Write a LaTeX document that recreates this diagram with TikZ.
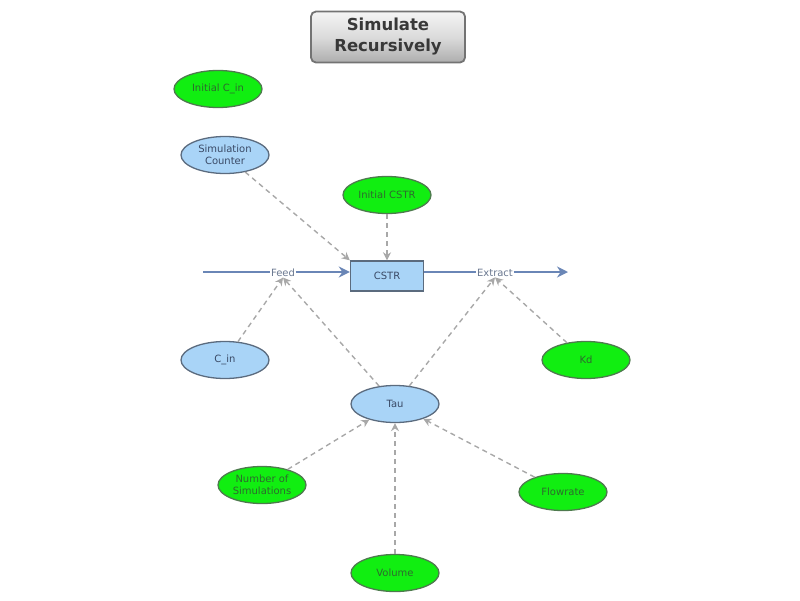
\documentclass[tikz,border=0pt]{standalone}
\usepackage{fontspec}
\setmainfont{DejaVu Sans}
\usetikzlibrary{shapes.geometric,arrows.meta}
\definecolor{gfill}{HTML}{11EE11}
\definecolor{gdraw}{HTML}{4E7A4E}
\definecolor{gtext}{HTML}{2E6A2E}
\definecolor{bfill}{HTML}{A9D4F7}
\definecolor{bdraw}{HTML}{5B6B7E}
\definecolor{btext}{HTML}{3A4A66}
\definecolor{flowc}{HTML}{6A86B6}
\definecolor{depc}{HTML}{A8A8A8}
\definecolor{lbltext}{HTML}{6A7890}
\tikzset{
  gnode/.style={ellipse, draw=gdraw, line width=1.3pt, fill=gfill, text=gtext,
    minimum width=88pt, minimum height=37pt, inner sep=0pt, align=center,
    font=\fontsize{10}{12}\selectfont},
  bnode/.style={ellipse, draw=bdraw, line width=1.3pt, fill=bfill, text=btext,
    minimum width=88pt, minimum height=37pt, inner sep=0pt, align=center,
    font=\fontsize{10}{12}\selectfont},
  stock/.style={rectangle, draw=bdraw, line width=1.4pt, fill=bfill, text=btext,
    minimum width=73pt, minimum height=30pt, inner sep=0pt,
    font=\fontsize{10}{12}\selectfont},
  flowlbl/.style={fill=white, inner sep=0.5pt, text=lbltext,
    font=\fontsize{10}{12}\selectfont},
  flow/.style={draw=flowc, line width=2.6pt},
  flowarrow/.style={flow, -{Stealth[length=11pt,width=11pt]}},
  dep/.style={draw=depc, line width=1.4pt, dash pattern=on 5pt off 4pt,
    -{Stealth[length=8pt,width=8pt]}},
  titlebox/.style={rectangle, rounded corners=5pt, draw=black!55, line width=1.8pt,
    top color=black!4, bottom color=black!32, middle color=black!14, text=black!78, align=center,
    minimum width=154pt, minimum height=51pt, inner sep=0pt,
    font=\bfseries\fontsize{16.5}{21}\selectfont}
}
\begin{document}
\begin{tikzpicture}[x=1pt,y=-1pt]
\useasboundingbox (0,0) rectangle (800,600);
\node[titlebox] (title) at (388,37) {Simulate\\Recursively};
\node[gnode] (icin) at (218,89) {Initial C\_in};
\node[bnode] (sc) at (225,155) {Simulation\\Counter};
\node[gnode] (icstr) at (387,195) {Initial CSTR};
\node[stock] (cstr) at (387,276) {CSTR};
\node[flowlbl] (feed) at (283,273) {Feed};
\node[flowlbl] (extract) at (495,273) {Extract};
\coordinate (fin) at (203,272);
\coordinate (fout) at (568,272);
\node[bnode] (cin) at (225,360) {C\_in};
\node[gnode] (kd) at (586,360) {Kd};
\node[bnode] (tau) at (395,404) {Tau};
\node[gnode] (nsim) at (262,485) {Number of\\Simulations};
\node[gnode] (flowrate) at (563,492) {Flowrate};
\node[gnode] (volume) at (395,573) {Volume};
% flows
\draw[flow] (fin) -- (feed.west |- fin);
\draw[flowarrow] (feed.east |- fin) -- (cstr.west |- fin);
\draw[flow] (cstr.east |- fin) -- (extract.west |- fin);
\draw[flowarrow] (extract.east |- fin) -- (fout);
% dependencies
\draw[dep] (sc) -- (cstr.north west);
\draw[dep] (icstr) -- (cstr.north);
\draw[dep] (cin) -- (feed.south);
\draw[dep] (tau) -- (feed.south);
\draw[dep] (tau) -- (extract.south);
\draw[dep] (kd) -- (extract.south);
\draw[dep] (nsim) -- (tau);
\draw[dep] (volume) -- (tau);
\draw[dep] (flowrate) -- (tau);
\end{tikzpicture}
\end{document}
